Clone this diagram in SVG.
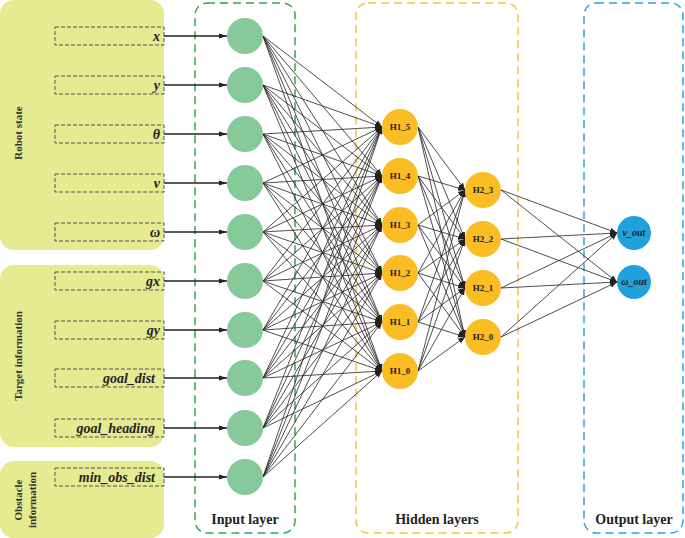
<svg xmlns="http://www.w3.org/2000/svg" width="685" height="538" viewBox="0 0 685 538">
<style>
.grp{fill:#e6ea90}
.tb{fill:none;stroke:#555;stroke-dasharray:4,2;stroke-width:1}
.lbl{font-family:"Liberation Serif",serif;font-weight:bold;font-style:italic;font-size:14px;fill:#222;text-anchor:end}
.side{font-family:"Liberation Serif",serif;font-weight:bold;font-size:11px;fill:#333;text-anchor:middle}
.in{fill:#87c99a}
.h{fill:#fbbd24}
.o{fill:#20a0dc}
.nt{font-family:"Liberation Serif",serif;font-weight:bold;font-size:9px;fill:#222;text-anchor:middle}
.ot{font-family:"Liberation Serif",serif;font-weight:bold;font-style:italic;font-size:10px;fill:#222;text-anchor:middle}
.lay{fill:none;stroke-width:1.5;stroke-dasharray:8,5}
.title{font-family:"Liberation Serif",serif;font-weight:bold;font-size:14px;fill:#222;text-anchor:middle}
#connectors line{stroke:#222;stroke-width:0.8;marker-end:url(#a)}
#arrows line{stroke:#222;stroke-width:1.3;marker-end:url(#b)}
</style>
<defs>
<marker id="a" viewBox="0 0 10 10" refX="10" refY="5" markerWidth="7" markerHeight="7" orient="auto" markerUnits="userSpaceOnUse"><path d="M0,1 L10,5 L0,9z" fill="#222"/></marker>
<marker id="b" viewBox="0 0 10 10" refX="10" refY="5" markerWidth="8" markerHeight="8" orient="auto" markerUnits="userSpaceOnUse"><path d="M0,2 L10,5 L0,8z" fill="#222"/></marker>
</defs>
<rect width="685" height="538" fill="#fff"/>
<g id="layers">
<rect class="lay" x="195" y="3" width="100" height="530" rx="12" stroke="#2aa852"/>
<rect class="lay" x="356" y="3" width="162" height="530" rx="12" stroke="#f5c242"/>
<rect class="lay" x="584" y="3" width="99" height="530" rx="12" stroke="#2ea0dc"/>
<text class="title" x="245" y="524">Input layer</text>
<text class="title" x="437" y="524">Hidden layers</text>
<text class="title" x="634" y="524">Output layer</text>
</g>
<g id="groups">
<rect class="grp" x="0" y="0" width="164" height="250" rx="14"/>
<rect class="grp" x="0" y="265" width="164" height="182" rx="14"/>
<rect class="grp" x="0" y="461" width="164" height="77" rx="14"/>
<text class="side" transform="translate(22,133) rotate(-90)">Robot state</text>
<text class="side" transform="translate(22,356) rotate(-90)">Target information</text>
<text class="side" transform="translate(22,500) rotate(-90)">Obstacle</text>
<text class="side" transform="translate(36,500) rotate(-90)">information</text>
</g>
<g id="inputs">
<rect class="tb" x="55" y="27" width="109" height="18"/><text class="lbl" x="160" y="41">x</text>
<rect class="tb" x="55" y="76" width="109" height="18"/><text class="lbl" x="160" y="90">y</text>
<rect class="tb" x="55" y="125" width="109" height="18"/><text class="lbl" x="160" y="139">θ</text>
<rect class="tb" x="55" y="174" width="109" height="18"/><text class="lbl" x="160" y="188">v</text>
<rect class="tb" x="55" y="223" width="109" height="18"/><text class="lbl" x="160" y="237">ω</text>
<rect class="tb" x="55" y="272" width="109" height="18"/><text class="lbl" x="160" y="286">gx</text>
<rect class="tb" x="55" y="321" width="109" height="18"/><text class="lbl" x="160" y="335">gy</text>
<rect class="tb" x="55" y="369" width="109" height="18"/><text class="lbl" x="155" y="383">goal_dist</text>
<rect class="tb" x="55" y="419" width="109" height="18"/><text class="lbl" x="155" y="433">goal_heading</text>
<rect class="tb" x="55" y="468" width="109" height="18"/><text class="lbl" x="155" y="482">min_obs_dist</text>
</g>
<g id="arrows">
<line x1="164" y1="36" x2="227" y2="36"/><line x1="164" y1="85" x2="227" y2="85"/><line x1="164" y1="134" x2="227" y2="134"/><line x1="164" y1="183" x2="227" y2="183"/><line x1="164" y1="232" x2="227" y2="232"/><line x1="164" y1="281" x2="227" y2="281"/><line x1="164" y1="330" x2="227" y2="330"/><line x1="164" y1="378" x2="227" y2="378"/><line x1="164" y1="428" x2="227" y2="428"/><line x1="164" y1="477" x2="227" y2="477"/>
</g>
<g id="connectors">
<line x1="263" y1="36" x2="382" y2="127"/><line x1="263" y1="36" x2="382" y2="176"/><line x1="263" y1="36" x2="382" y2="225"/><line x1="263" y1="36" x2="382" y2="273"/><line x1="263" y1="36" x2="382" y2="322"/><line x1="263" y1="36" x2="382" y2="371"/>
<line x1="263" y1="85" x2="382" y2="127"/><line x1="263" y1="85" x2="382" y2="176"/><line x1="263" y1="85" x2="382" y2="225"/><line x1="263" y1="85" x2="382" y2="273"/><line x1="263" y1="85" x2="382" y2="322"/><line x1="263" y1="85" x2="382" y2="371"/>
<line x1="263" y1="134" x2="382" y2="127"/><line x1="263" y1="134" x2="382" y2="176"/><line x1="263" y1="134" x2="382" y2="225"/><line x1="263" y1="134" x2="382" y2="273"/><line x1="263" y1="134" x2="382" y2="322"/><line x1="263" y1="134" x2="382" y2="371"/>
<line x1="263" y1="183" x2="382" y2="127"/><line x1="263" y1="183" x2="382" y2="176"/><line x1="263" y1="183" x2="382" y2="225"/><line x1="263" y1="183" x2="382" y2="273"/><line x1="263" y1="183" x2="382" y2="322"/><line x1="263" y1="183" x2="382" y2="371"/>
<line x1="263" y1="232" x2="382" y2="127"/><line x1="263" y1="232" x2="382" y2="176"/><line x1="263" y1="232" x2="382" y2="225"/><line x1="263" y1="232" x2="382" y2="273"/><line x1="263" y1="232" x2="382" y2="322"/><line x1="263" y1="232" x2="382" y2="371"/>
<line x1="263" y1="281" x2="382" y2="127"/><line x1="263" y1="281" x2="382" y2="176"/><line x1="263" y1="281" x2="382" y2="225"/><line x1="263" y1="281" x2="382" y2="273"/><line x1="263" y1="281" x2="382" y2="322"/><line x1="263" y1="281" x2="382" y2="371"/>
<line x1="263" y1="330" x2="382" y2="127"/><line x1="263" y1="330" x2="382" y2="176"/><line x1="263" y1="330" x2="382" y2="225"/><line x1="263" y1="330" x2="382" y2="273"/><line x1="263" y1="330" x2="382" y2="322"/><line x1="263" y1="330" x2="382" y2="371"/>
<line x1="263" y1="378" x2="382" y2="127"/><line x1="263" y1="378" x2="382" y2="176"/><line x1="263" y1="378" x2="382" y2="225"/><line x1="263" y1="378" x2="382" y2="273"/><line x1="263" y1="378" x2="382" y2="322"/><line x1="263" y1="378" x2="382" y2="371"/>
<line x1="263" y1="428" x2="382" y2="127"/><line x1="263" y1="428" x2="382" y2="176"/><line x1="263" y1="428" x2="382" y2="225"/><line x1="263" y1="428" x2="382" y2="273"/><line x1="263" y1="428" x2="382" y2="322"/><line x1="263" y1="428" x2="382" y2="371"/>
<line x1="263" y1="477" x2="382" y2="127"/><line x1="263" y1="477" x2="382" y2="176"/><line x1="263" y1="477" x2="382" y2="225"/><line x1="263" y1="477" x2="382" y2="273"/><line x1="263" y1="477" x2="382" y2="322"/><line x1="263" y1="477" x2="382" y2="371"/>
<line x1="418" y1="127" x2="465" y2="190"/><line x1="418" y1="127" x2="465" y2="239"/><line x1="418" y1="127" x2="465" y2="288"/><line x1="418" y1="127" x2="465" y2="337"/>
<line x1="418" y1="176" x2="465" y2="190"/><line x1="418" y1="176" x2="465" y2="239"/><line x1="418" y1="176" x2="465" y2="288"/><line x1="418" y1="176" x2="465" y2="337"/>
<line x1="418" y1="225" x2="465" y2="190"/><line x1="418" y1="225" x2="465" y2="239"/><line x1="418" y1="225" x2="465" y2="288"/><line x1="418" y1="225" x2="465" y2="337"/>
<line x1="418" y1="273" x2="465" y2="190"/><line x1="418" y1="273" x2="465" y2="239"/><line x1="418" y1="273" x2="465" y2="288"/><line x1="418" y1="273" x2="465" y2="337"/>
<line x1="418" y1="322" x2="465" y2="190"/><line x1="418" y1="322" x2="465" y2="239"/><line x1="418" y1="322" x2="465" y2="288"/><line x1="418" y1="322" x2="465" y2="337"/>
<line x1="418" y1="371" x2="465" y2="190"/><line x1="418" y1="371" x2="465" y2="239"/><line x1="418" y1="371" x2="465" y2="288"/><line x1="418" y1="371" x2="465" y2="337"/>
<line x1="501" y1="190" x2="617" y2="233"/><line x1="501" y1="190" x2="617" y2="282"/>
<line x1="501" y1="239" x2="617" y2="233"/><line x1="501" y1="239" x2="617" y2="282"/>
<line x1="501" y1="288" x2="617" y2="233"/><line x1="501" y1="288" x2="617" y2="282"/>
<line x1="501" y1="337" x2="617" y2="233"/><line x1="501" y1="337" x2="617" y2="282"/>
</g>
<g id="in0"><circle class="in" cx="245" cy="36" r="18"/></g>
<g id="in1"><circle class="in" cx="245" cy="85" r="18"/></g>
<g id="in2"><circle class="in" cx="245" cy="134" r="18"/></g>
<g id="in3"><circle class="in" cx="245" cy="183" r="18"/></g>
<g id="in4"><circle class="in" cx="245" cy="232" r="18"/></g>
<g id="in5"><circle class="in" cx="245" cy="281" r="18"/></g>
<g id="in6"><circle class="in" cx="245" cy="330" r="18"/></g>
<g id="in7"><circle class="in" cx="245" cy="378" r="18"/></g>
<g id="in8"><circle class="in" cx="245" cy="428" r="18"/></g>
<g id="in9"><circle class="in" cx="245" cy="477" r="18"/></g>
<g id="H1_5"><circle class="h" cx="400" cy="127" r="18"/><text class="nt" x="400" y="130">H1_5</text></g>
<g id="H1_4"><circle class="h" cx="400" cy="176" r="18"/><text class="nt" x="400" y="179">H1_4</text></g>
<g id="H1_3"><circle class="h" cx="400" cy="225" r="18"/><text class="nt" x="400" y="228">H1_3</text></g>
<g id="H1_2"><circle class="h" cx="400" cy="273" r="18"/><text class="nt" x="400" y="276">H1_2</text></g>
<g id="H1_1"><circle class="h" cx="400" cy="322" r="18"/><text class="nt" x="400" y="325">H1_1</text></g>
<g id="H1_0"><circle class="h" cx="400" cy="371" r="18"/><text class="nt" x="400" y="374">H1_0</text></g>
<g id="H2_3"><circle class="h" cx="483" cy="190" r="18"/><text class="nt" x="483" y="193">H2_3</text></g>
<g id="H2_2"><circle class="h" cx="483" cy="239" r="18"/><text class="nt" x="483" y="242">H2_2</text></g>
<g id="H2_1"><circle class="h" cx="483" cy="288" r="18"/><text class="nt" x="483" y="291">H2_1</text></g>
<g id="H2_0"><circle class="h" cx="483" cy="337" r="18"/><text class="nt" x="483" y="340">H2_0</text></g>
<g id="v_out"><circle class="o" cx="634" cy="233" r="17"/><text class="ot" x="634" y="236">v_out</text></g>
<g id="w_out"><circle class="o" cx="634" cy="282" r="17"/><text class="ot" x="634" y="285">ω_out</text></g>
</svg>
